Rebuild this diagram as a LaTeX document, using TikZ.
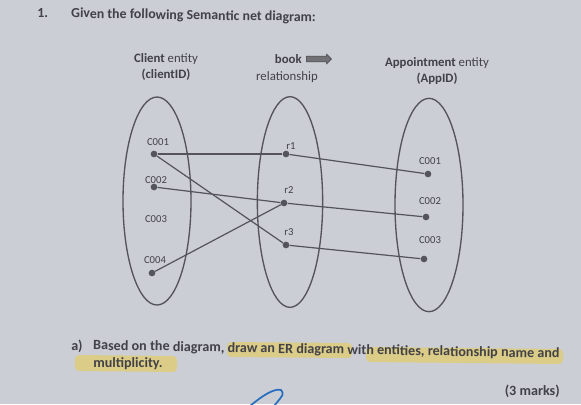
\documentclass[tikz,border=0pt]{standalone}
\usepackage{fontspec}
\setmainfont{Carlito}
\usepackage{xcolor}
\usepackage{tikz}
\usetikzlibrary{positioning,shapes.geometric,shapes.arrows}
\definecolor{paper}{RGB}{203, 206, 213}
\definecolor{ink}{RGB}{66, 66, 72}
\definecolor{wire}{RGB}{84, 84, 90}
\definecolor{marker}{RGB}{222, 204, 122}
\definecolor{penblue}{RGB}{40, 110, 190}

\begin{document}
\begin{tikzpicture}[
    x=0.75pt, y=-0.75pt,
    title/.style={text=ink, font=\fontsize{10.4}{12}\selectfont\bfseries, inner sep=0pt},
    head/.style={text=ink, font=\fontsize{9.6}{11}\selectfont, inner sep=0pt},
    body/.style={text=ink, font=\fontsize{10.6}{12}\selectfont\bfseries, inner sep=0pt},
    setoval/.style={ellipse, draw=wire, line width=1pt, inner sep=0pt},
    elem/.style={circle, fill=wire, inner sep=0pt, minimum size=5pt},
    elemlabel/.style={text=ink, font=\fontsize{8}{9}\selectfont, inner sep=0pt},
    link/.style={draw=wire, line width=0.9pt},
    highlight/.style={fill=marker, opacity=0.85, rounded corners=3pt},
    bookarrow/.style={single arrow, draw=ink, fill=ink!75, minimum height=19pt, minimum width=7.5pt, single arrow head extend=1.5pt, inner sep=1.7pt}
]
    \useasboundingbox (0,0) rectangle (581,404);
    \fill[paper] (0,0) rectangle (581,404);

    % Highlighter marks
    \fill[highlight] (227,342) -- (352,343) -- (352,358) -- (227,357) -- cycle;
    \fill[highlight] (366,347) -- (563,349) -- (563,364) -- (366,362) -- cycle;
    \fill[highlight] (75,355) -- (177,356) -- (177,372) -- (75,371) -- cycle;

    % Question
    \node[title, anchor=west] (qnum) at (37,13) {1.};
    \node[title, anchor=west, rotate=-0.9] (qtext) at (71,14) {Given the following Semantic net diagram:};

    % Headings
    \node[head] (clienthead) at (166,59) {\textbf{Client} entity};
    \node[head] (clientid) at (166,75) {\textbf{(clientID)}};
    \node[head, anchor=east] (bookhead) at (302,59) {\textbf{book}};
    \node[bookarrow, right=3pt of bookhead] (bookarr) {};
    \node[head] (relhead) at (287,77) {relationship};
    \node[head] (apphead) at (437,63) {\textbf{Appointment} entity};
    \node[head] (appid) at (437,79) {\textbf{(AppID)}};

    % Sets
    \node[setoval, minimum width=51pt, minimum height=156pt] (clientset) at (157,201) {};
    \node[setoval, minimum width=49pt, minimum height=158pt] (bookset) at (290,202) {};
    \node[setoval, minimum width=51pt, minimum height=160pt] (appset) at (429,205) {};

    % Client elements
    \node[elem] (c1) at (154,154) {};
    \node[elem] (c2) at (154,187) {};
    \node[elem] (c4) at (152,273) {};
    \node[elemlabel] (c1lab) at (158,142) {C001};
    \node[elemlabel] (c2lab) at (156,180) {C002};
    \node[elemlabel] (c3lab) at (156,219) {C003};
    \node[elemlabel] (c4lab) at (155,260) {C004};

    % Relationship elements
    \node[elem] (r1) at (286,154) {};
    \node[elem] (r2) at (284,203) {};
    \node[elem] (r3) at (286,245) {};
    \node[elemlabel] (r1lab) at (291,146) {r1};
    \node[elemlabel] (r2lab) at (289,190) {r2};
    \node[elemlabel] (r3lab) at (289,232) {r3};

    % Appointment elements
    \node[elem] (a1) at (428,174) {};
    \node[elem] (a2) at (426,217) {};
    \node[elem] (a3) at (424,259) {};
    \node[elemlabel] (a1lab) at (430,161) {C001};
    \node[elemlabel] (a2lab) at (430,201) {C002};
    \node[elemlabel] (a3lab) at (430,240) {C003};

    % Connections
    \draw[link] (c1) -- (r1);
    \draw[link] (r1) -- (a1);
    \draw[link] (c1) -- (r3);
    \draw[link] (r3) -- (a3);
    \draw[link] (c2) -- (r2);
    \draw[link] (r2) -- (a2);
    \draw[link] (c4) -- (r2);

    % Part a
    \node[body, anchor=west] (parta) at (71,346) {a)};
    \node[body, anchor=west, rotate=-1.0] (partline) at (93,346) {Based on the diagram, draw an ER diagram with entities, relationship name and};
    \node[body, anchor=west] (partmore) at (93,364) {multiplicity.};
    \node[body, anchor=east] (marks) at (560,391) {(3 marks)};

    % Pen stroke
    \draw[penblue, line width=1.3pt, line cap=round] (250,406) .. controls (262,396) and (274,388) .. (281,390) .. controls (284,394) .. (274,406);
\end{tikzpicture}
\end{document}
